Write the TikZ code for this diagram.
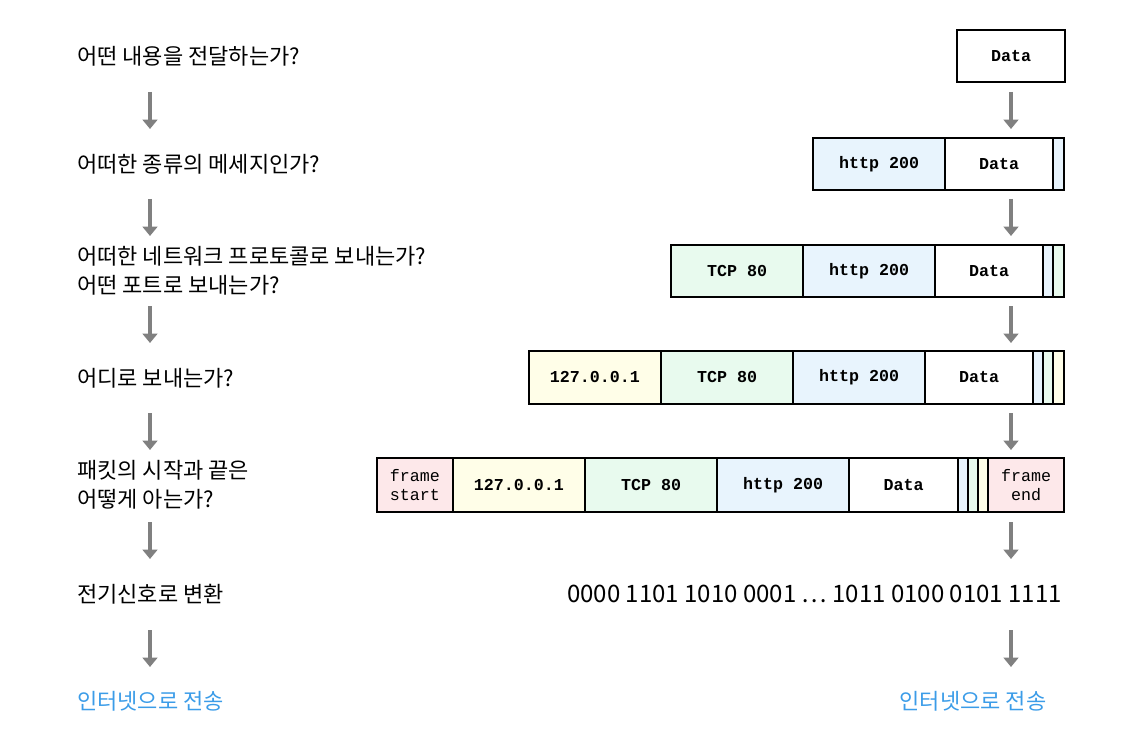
\documentclass[tikz,border=0pt]{standalone}
\usepackage{fontspec}
\setmainfont{Noto Sans CJK KR}
\setmonofont{Liberation Mono}
\usetikzlibrary{arrows.meta,positioning}
\definecolor{hblue}{HTML}{E8F4FD}
\definecolor{hgreen}{HTML}{E8FAEE}
\definecolor{hyellow}{HTML}{FFFEE8}
\definecolor{hpink}{HTML}{FDE8EA}
\definecolor{netblue}{HTML}{3B9CE8}
\definecolor{arrgray}{HTML}{808080}
\tikzset{
  field/.style={draw,thick,inner sep=0pt,font=\ttfamily\bfseries\fontsize{12.5}{14.5}\selectfont,align=center},
  question/.style={anchor=west,inner sep=0pt,font=\fontsize{16.5}{22}\selectfont,align=left},
  down/.style={-{Triangle[width=11pt,length=7pt]},line width=3pt,arrgray}
}
% \pbox{name}{x1}{x2}{y1}{y2}{fill}{text}
\newcommand{\pbox}[7]{\node[field,fill=#6,minimum width={(#3-#2)*0.75pt},minimum height={(#5-#4)*0.75pt}]
  (#1) at ({(#2+#3)/2},{(#4+#5)/2}) {#7};}
\begin{document}
\begin{tikzpicture}[x=0.75pt,y=-0.75pt]
\useasboundingbox (0,0) rectangle (1125,738);
% questions
\node[question] (q1) at (77,56) {어떤 내용을 전달하는가?};
\node[question] (q2) at (77,164) {어떠한 종류의 메세지인가?};
\node[question] (q3) at (77,271) {어떠한 네트워크 프로토콜로 보내는가?\\어떤 포트로 보내는가?};
\node[question] (q4) at (77,378) {어디로 보내는가?};
\node[question] (q5) at (77,485) {패킷의 시작과 끝은\\어떻게 아는가?};
\node[question] (q6) at (77,594) {전기신호로 변환};
\node[question,text=netblue] (q7) at (77,701) {인터넷으로 전송};
% packets
\pbox{d1}{957}{1065}{30}{82}{white}{Data}
\pbox{h2}{813}{945}{138}{190}{hblue}{http 200}
\pbox{d2}{945}{1053}{138}{190}{white}{Data}
\pbox{s2a}{1053}{1064}{138}{190}{hblue}{}
\pbox{t3}{671}{803}{245}{297}{hgreen}{TCP 80}
\pbox{h3}{803}{935}{245}{297}{hblue}{http 200}
\pbox{d3}{935}{1043}{245}{297}{white}{Data}
\pbox{s3a}{1043}{1053}{245}{297}{hblue}{}
\pbox{s3b}{1053}{1064}{245}{297}{hgreen}{}
\pbox{i4}{529}{661}{351}{404}{hyellow}{127.0.0.1}
\pbox{t4}{661}{793}{351}{404}{hgreen}{TCP 80}
\pbox{h4}{793}{925}{351}{404}{hblue}{http 200}
\pbox{d4}{925}{1033}{351}{404}{white}{Data}
\pbox{s4a}{1033}{1043}{351}{404}{hblue}{}
\pbox{s4b}{1043}{1053}{351}{404}{hgreen}{}
\pbox{s4c}{1053}{1064}{351}{404}{hyellow}{}
\pbox{f5}{377}{453}{458}{512}{hpink}{\mdseries frame\\\mdseries start}
\pbox{i5}{453}{585}{458}{512}{hyellow}{127.0.0.1}
\pbox{t5}{585}{717}{458}{512}{hgreen}{TCP 80}
\pbox{h5}{717}{849}{458}{512}{hblue}{http 200}
\pbox{d5}{849}{958}{458}{512}{white}{Data}
\pbox{s5a}{958}{968}{458}{512}{hblue}{}
\pbox{s5b}{968}{978}{458}{512}{hgreen}{}
\pbox{s5c}{978}{988}{458}{512}{hyellow}{}
\pbox{e5}{988}{1064}{458}{512}{hpink}{\mdseries frame\\\mdseries end}
\node[anchor=east,inner sep=0pt,font=\fontsize{18}{22}\selectfont] (bits) at (1062,594)
  {0000 1101 1010 0001 ⋯ 1011 0100 0101 1111};
\node[inner sep=0pt,text=netblue,font=\fontsize{16.5}{22}\selectfont] (net) at (973,701) {인터넷으로 전송};
% arrows
\foreach \i/\ya in {1/92,2/199,3/306,4/413,5/522,6/630}{
  \coordinate (la\i) at (150,\ya);
  \coordinate (lb\i) at (150,\ya+37);
  \coordinate (ra\i) at (1011,\ya);
  \coordinate (rb\i) at (1011,\ya+37);
  \draw[down] (la\i) -- (lb\i);
  \draw[down] (ra\i) -- (rb\i);
}
\end{tikzpicture}
\end{document}
